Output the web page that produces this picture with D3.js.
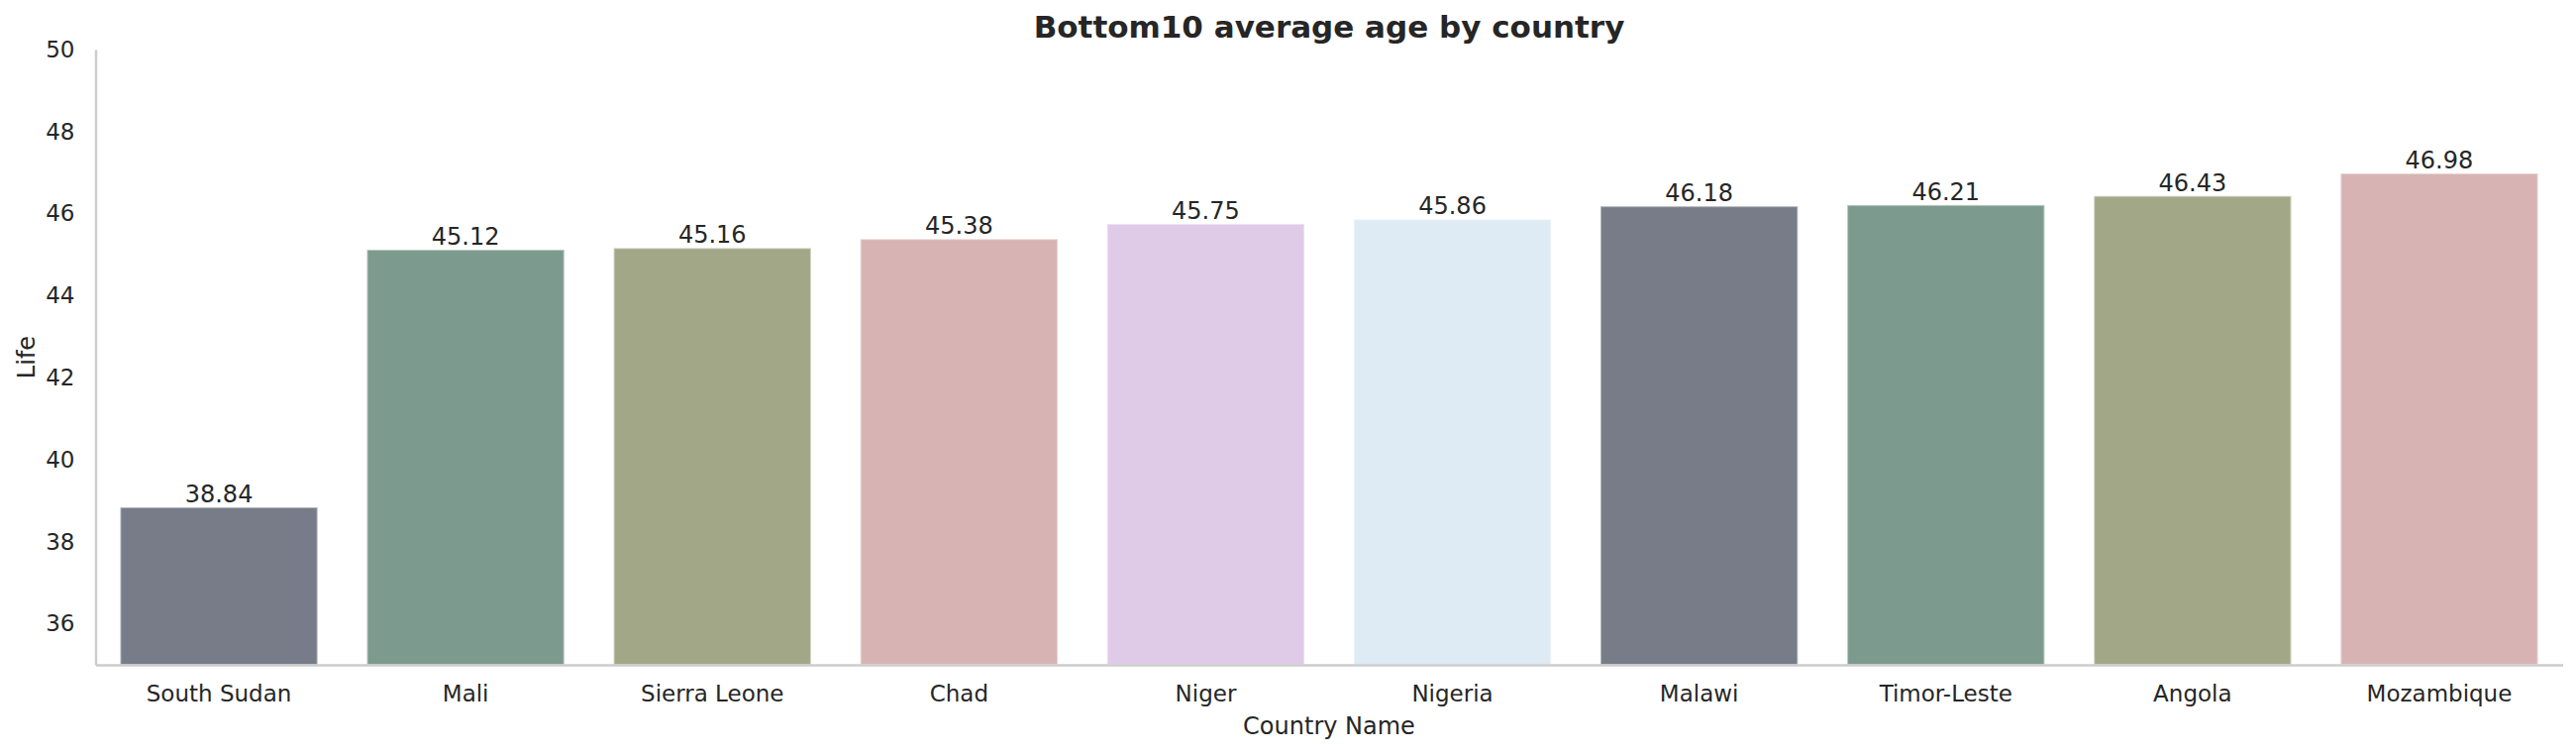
<!DOCTYPE html>
<html>
<head>
<meta charset="utf-8">
<script src="https://cdn.jsdelivr.net/npm/d3@7"></script>
<style>
  body { margin: 0; background: #fff; }
  text { font-family: "DejaVu Sans", sans-serif; fill: #262626; }
</style>
</head>
<body>
<script>
const width = 2601;
const height = 761;

// data
const countries = ["South Sudan", "Mali", "Sierra Leone", "Chad", "Niger",
                   "Nigeria", "Malawi", "Timor-Leste", "Angola", "Mozambique"];
const lifeValues = [38.84, 45.12, 45.16, 45.38, 45.75, 45.86, 46.18, 46.21, 46.43, 46.98];
const palette = ["#777c88", "#7c9b8e", "#a2a887", "#d7b4b3", "#dfcbe8", "#deebf4"];
const yTicks = [36, 38, 40, 42, 44, 46, 48, 50];

const margin = { top: 50, right: 13.5, bottom: 90, left: 96.5 };

const svg = d3.select("body").append("svg")
    .attr("width", width)
    .attr("height", height);

const x = d3.scaleBand()
    .domain(countries)
    .range([margin.left, width - margin.right])
    .paddingInner(0.2)
    .paddingOuter(0.1);

const y = d3.scaleLinear()
    .domain([35, 50])
    .range([height - margin.bottom, margin.top]);

const color = d3.scaleOrdinal().domain(countries).range(palette);

// bars
svg.selectAll("rect.bar")
    .data(countries)
    .enter()
    .append("rect")
    .attr("class", "bar")
    .attr("x", d => x(d))
    .attr("y", (d, i) => y(lifeValues[i]))
    .attr("width", x.bandwidth())
    .attr("height", (d, i) => y(35) - y(lifeValues[i]))
    .attr("fill", d => color(d))
    .attr("stroke", "#fff")
    .attr("stroke-opacity", 0.45)
    .attr("stroke-width", 2);

// value labels
svg.selectAll("text.value")
    .data(countries)
    .enter()
    .append("text")
    .attr("class", "value")
    .attr("x", d => x(d) + x.bandwidth() / 2)
    .attr("y", (d, i) => y(lifeValues[i]) - 5)
    .attr("text-anchor", "middle")
    .style("font-size", "24px")
    .text((d, i) => lifeValues[i].toFixed(2));

// axes
const xAxis = svg.append("g")
    .attr("transform", `translate(0,${y(35)})`)
    .call(d3.axisBottom(x).tickSize(0).tickPadding(21));

const yAxis = svg.append("g")
    .attr("transform", `translate(${margin.left},0)`)
    .call(d3.axisLeft(y).tickValues(yTicks).tickSize(0).tickPadding(21));

[xAxis, yAxis].forEach(g => {
    g.select(".domain").attr("stroke", "#cccccc").attr("stroke-width", 2.5);
    g.selectAll("text").style("font-size", "23px").attr("fill", "#262626")
        .style("font-family", "DejaVu Sans, sans-serif");
});

// axis titles
svg.append("text")
    .attr("x", (margin.left + width - margin.right) / 2)
    .attr("y", 741)
    .attr("text-anchor", "middle")
    .style("font-size", "24px")
    .text("Country Name");

svg.append("text")
    .attr("transform", `translate(35,${(margin.top + height - margin.bottom) / 2}) rotate(-90)`)
    .attr("text-anchor", "middle")
    .style("font-size", "24px")
    .text("Life");

svg.append("text")
    .attr("x", (margin.left + width - margin.right) / 2)
    .attr("y", 38)
    .attr("text-anchor", "middle")
    .style("font-size", "31px")
    .style("font-weight", "bold")
    .text("Bottom10 average age by country");
</script>
</body>
</html>
